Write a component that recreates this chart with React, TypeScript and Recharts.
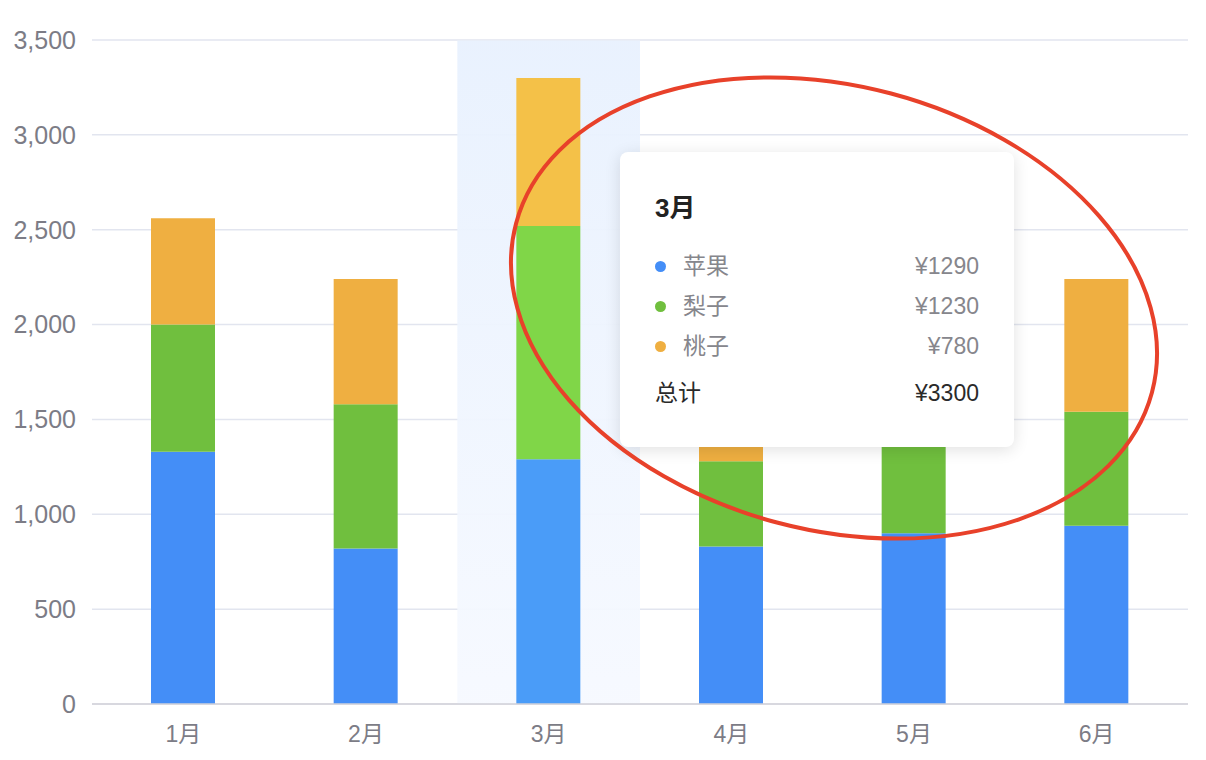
import React from 'react';
import { BarChart, Bar, XAxis, YAxis, CartesianGrid, Tooltip, Cell } from 'recharts';

const months = ['1月', '2月', '3月', '4月', '5月', '6月'];
const apple = [1330, 820, 1290, 830, 900, 940];
const pear = [670, 760, 1230, 450, 720, 600];
const peach = [560, 660, 780, 620, 600, 700];
const yTicks = [0, 500, 1000, 1500, 2000, 2500, 3000, 3500];

const seriesNames = { apple: '苹果', pear: '梨子', peach: '桃子' };
const colors = { apple: '#448ef7', pear: '#70bf3e', peach: '#efaf41' };
const activeColors = { apple: '#4a9cf8', pear: '#80d648', peach: '#f4c148' };
const activeIndex = 2;

const data = months.map((m, i) => ({ month: m, apple: apple[i], pear: pear[i], peach: peach[i] }));

const FONT = '"Helvetica Neue", Helvetica, "Liberation Sans", Arial, "Noto Sans CJK SC", sans-serif';

const CursorRect = (props: any) => {
  const { x, y, width, height } = props;
  return (
    <g>
      <defs>
        <linearGradient id="cursorGrad" x1="0" y1="0" x2="0" y2="1">
          <stop offset="0%" stopColor="#e8f1fe" stopOpacity={0.95} />
          <stop offset="100%" stopColor="#f6f9ff" stopOpacity={0.95} />
        </linearGradient>
      </defs>
      <rect x={x} y={y} width={width} height={height} fill="url(#cursorGrad)" />
    </g>
  );
};

const TooltipBox = () => {
  const d = data[activeIndex];
  const total = d.apple + d.pear + d.peach;
  const rows = (['apple', 'pear', 'peach'] as const).map((k) => ({
    key: k,
    name: seriesNames[k],
    value: d[k],
    color: colors[k],
  }));
  return (
    <div
      style={{
        width: 394,
        height: 295,
        boxSizing: 'border-box',
        background: '#fff',
        borderRadius: 8,
        boxShadow: '0 3px 16px rgba(0,0,0,0.12)',
        padding: '40px 35px 0 35px',
        fontFamily: FONT,
      }}
    >
      <div style={{ height: 32, lineHeight: '32px', fontSize: 26, fontWeight: 700, color: '#222' }}>{d.month}</div>
      <div style={{ marginTop: 22 }}>
        {rows.map((r) => (
          <div key={r.key} style={{ display: 'flex', alignItems: 'center', height: 40, lineHeight: '40px', fontSize: 23, color: '#86868c' }}>
            <span style={{ width: 11, height: 11, borderRadius: '50%', background: r.color, display: 'inline-block', marginRight: 17 }} />
            <span style={{ flex: 1 }}>{r.name}</span>
            <span>¥{r.value}</span>
          </div>
        ))}
      </div>
      <div style={{ marginTop: 7, display: 'flex', height: 40, lineHeight: '40px', fontSize: 23, color: '#2a2a2a' }}>
        <span style={{ flex: 1 }}>总计</span>
        <span>¥{total}</span>
      </div>
    </div>
  );
};

export default function App() {
  const keys = ['apple', 'pear', 'peach'] as const;
  return (
    <div style={{ position: 'absolute', left: 0, top: 0, width: 1206, height: 760, background: '#fff', fontFamily: FONT }}>
      <BarChart
        width={1206}
        height={760}
        data={data}
        margin={{ top: 40, right: 18, left: 0, bottom: 0 }}
        barSize={64}
      >
        <CartesianGrid vertical={false} stroke="#e2e5ef" strokeWidth={1.5} />
        <XAxis
          dataKey="month"
          height={56}
          tickLine={false}
          tickSize={0}
          tickMargin={22}
          axisLine={{ stroke: '#d2d2d8', strokeWidth: 1.5 }}
          tick={{ fill: '#7c7c86', fontSize: 23, fontFamily: FONT }}
        />
        <YAxis
          width={92}
          domain={[0, 3500]}
          ticks={yTicks}
          axisLine={false}
          tickLine={false}
          tickSize={0}
          tickMargin={16}
          tickFormatter={(v: number) => v.toLocaleString('en-US')}
          tick={{ fill: '#7c7c86', fontSize: 25, fontFamily: FONT }}
        />
        <Tooltip
          defaultIndex={activeIndex}
          active={true}
          position={{ x: 620, y: 152 }}
          allowEscapeViewBox={{ x: true, y: true }}
          cursor={<CursorRect />}
          content={<TooltipBox />}
          isAnimationActive={false}
          wrapperStyle={{ outline: 'none', zIndex: 5 }}
        />
        {keys.map((k) => (
          <Bar key={k} dataKey={k} stackId="a" name={seriesNames[k]} isAnimationActive={false} activeBar={false}>
            {data.map((_, i) => (
              <Cell key={i} fill={i === activeIndex ? activeColors[k] : colors[k]} />
            ))}
          </Bar>
        ))}
      </BarChart>
      <svg
        width={1206}
        height={760}
        style={{ position: 'absolute', left: 0, top: 0, pointerEvents: 'none', zIndex: 10 }}
      >
        <ellipse
          cx={834}
          cy={308}
          rx={329}
          ry={222}
          transform="rotate(14.9 834 308)"
          fill="none"
          stroke="#e8412a"
          strokeWidth={4}
        />
      </svg>
    </div>
  );
}
